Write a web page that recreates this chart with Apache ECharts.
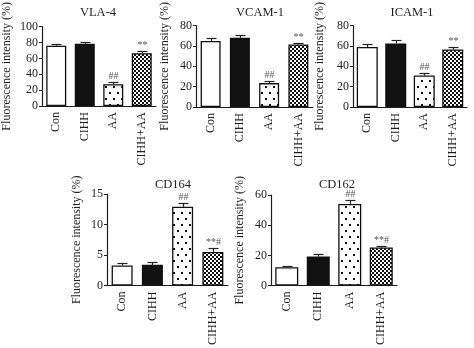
<!DOCTYPE html>
<html>
<head>
<meta charset="utf-8">
<script src="https://cdn.jsdelivr.net/npm/echarts@6/dist/echarts.min.js"></script>
<style>
  html, body { margin: 0; padding: 0; background: #fff; }
  #chart { width: 474px; height: 348px; }
</style>
</head>
<body>
<div id="chart"></div>
<script>
// Group names shared by every panel
const categories = ['Con', 'CIHH', 'AA', 'CIHH+AA'];

// Mean fluorescence intensity (%) and upper error (SEM) per group
const vla4Values = [76, 78.5, 27.5, 66.5];
const vla4Errors = [2.3, 2.2, 2.7, 3.0];
const vcam1Values = [65, 68, 23.5, 61.5];
const vcam1Errors = [2.8, 3.0, 1.6, 1.8];
const icam1Values = [59, 62.5, 31, 56.5];
const icam1Errors = [2.6, 3.0, 2.7, 2.4];
const cd164Values = [3.3, 3.4, 12.9, 5.5];
const cd164Errors = [0.35, 0.4, 0.6, 0.6];
const cd162Values = [12.1, 19.2, 54.1, 25.2];
const cd162Errors = [1.0, 1.8, 2.4, 1.3];

// Significance marks drawn above each bar
const topMarks = ['', '', '##', '**'];
const bottomMarks = ['', '', '##', '**#'];

// Axis scales (min, max, interval) for each panel
const vla4Ticks = [0, 100, 20];
const vcam1Ticks = [0, 80, 20];
const icam1Ticks = [0, 80, 20];
const cd164Ticks = [0, 15, 5];
const cd162Ticks = [0, 60, 20];

const FONT = 'Liberation Serif';
const INK = '#1e1e1e';

// Fill patterns: sparse dots for AA, fine checkerboard for CIHH+AA
function dotPattern() {
  const c = document.createElement('canvas');
  c.width = 8; c.height = 12;
  const g = c.getContext('2d');
  g.fillStyle = '#fff'; g.fillRect(0, 0, 8, 12);
  g.fillStyle = '#111';
  g.fillRect(1, 2, 2, 2);
  g.fillRect(5, 8, 2, 2);
  return c;
}
function checkerPattern() {
  const c = document.createElement('canvas');
  c.width = 4; c.height = 4;
  const g = c.getContext('2d');
  g.fillStyle = '#fff'; g.fillRect(0, 0, 4, 4);
  g.fillStyle = '#111';
  g.fillRect(0, 0, 2, 2);
  g.fillRect(2, 2, 2, 2);
  return c;
}
const fills = [
  '#ffffff',
  '#111111',
  { image: dotPattern(), repeat: 'repeat' },
  { image: checkerPattern(), repeat: 'repeat' }
];

const panels = [
  { title: 'VLA-4', values: vla4Values, errors: vla4Errors, marks: topMarks, ticks: vla4Ticks,
    grid: { left: 40, top: 13, width: 116, height: 93 }, nameGap: 29, barWidth: 20, titleX: 93, titleY: 1 },
  { title: 'VCAM-1', values: vcam1Values, errors: vcam1Errors, marks: topMarks, ticks: vcam1Ticks,
    grid: { left: 196, top: 13, width: 117, height: 94 }, nameGap: 25, barWidth: 20, titleX: 255, titleY: 1 },
  { title: 'ICAM-1', values: icam1Values, errors: icam1Errors, marks: topMarks, ticks: icam1Ticks,
    grid: { left: 353, top: 13, width: 114, height: 94 }, nameGap: 27, barWidth: 21, titleX: 407, titleY: 1 },
  { title: 'CD164', values: cd164Values, errors: cd164Errors, marks: bottomMarks, ticks: cd164Ticks,
    grid: { left: 107, top: 194, width: 121, height: 96 }, nameGap: 24, barWidth: 21, titleX: 168, titleY: 173 },
  { title: 'CD162', values: cd162Values, errors: cd162Errors, marks: bottomMarks, ticks: cd162Ticks,
    grid: { left: 271, top: 195, width: 126, height: 95 }, nameGap: 25, barWidth: 23, titleX: 332, titleY: 173 }
];

const option = {
  animation: false,
  backgroundColor: '#ffffff',
  title: [], grid: [], xAxis: [], yAxis: [], series: []
};

panels.forEach((p, i) => {
  option.title.push({
    text: p.title, left: p.titleX, top: p.titleY, textAlign: 'center',
    textStyle: { fontFamily: FONT, fontSize: 12.5, fontWeight: 'normal', color: INK }
  });
  option.grid.push(Object.assign({ containLabel: false }, p.grid));
  option.xAxis.push({
    type: 'category', gridIndex: i, data: categories,
    axisLine: { lineStyle: { color: INK, width: 1.2 } },
    axisTick: { alignWithLabel: true, length: 3, lineStyle: { color: INK } },
    axisLabel: { rotate: 90, fontFamily: FONT, fontSize: 12, color: INK, margin: 6 }
  });
  option.yAxis.push({
    type: 'value', gridIndex: i,
    min: p.ticks[0], max: p.ticks[1], interval: p.ticks[2],
    name: 'Fluorescence intensity (%)', nameLocation: 'middle', nameGap: p.nameGap,
    nameTextStyle: { fontFamily: FONT, fontSize: 12, color: INK },
    axisLine: { show: true, lineStyle: { color: INK, width: 1.2 } },
    axisTick: { show: true, length: 3, lineStyle: { color: INK } },
    axisLabel: { fontFamily: FONT, fontSize: 12, color: INK, margin: 4 },
    splitLine: { show: false }
  });
  option.series.push({
    type: 'bar', xAxisIndex: i, yAxisIndex: i, barWidth: p.barWidth,
    data: p.values.map((v, k) => ({
      value: v,
      itemStyle: { color: fills[k], borderColor: '#111', borderWidth: 1.3 }
    }))
  });
  const marks = p.marks;
  option.series.push({
    type: 'custom', xAxisIndex: i, yAxisIndex: i, z: 5,
    data: p.values.map((v, k) => [k, v, p.errors[k]]),
    renderItem: function (params, api) {
      const x = api.value(0), v = api.value(1), e = api.value(2);
      const base = api.coord([x, v]);
      const top = api.coord([x, v + e]);
      const cx = Math.round(top[0]) + 0.5;
      const ty = Math.round(top[1]) + 0.5;
      const half = 5;
      const children = [
        { type: 'line', shape: { x1: cx, y1: base[1], x2: cx, y2: ty }, style: { stroke: '#222', lineWidth: 1.2 } },
        { type: 'line', shape: { x1: cx - half, y1: ty, x2: cx + half, y2: ty }, style: { stroke: '#222', lineWidth: 1.2 } }
      ];
      const mark = marks[params.dataIndex];
      if (mark) {
        children.push({
          type: 'text',
          style: { text: mark, x: cx, y: ty - 1, align: 'center', verticalAlign: 'bottom',
                   fontFamily: FONT, fontSize: 10, fill: '#555' }
        });
      }
      return { type: 'group', children: children };
    }
  });
});

const chart = echarts.init(document.getElementById('chart'), null, { renderer: 'canvas' });
chart.setOption(option);
</script>
</body>
</html>
